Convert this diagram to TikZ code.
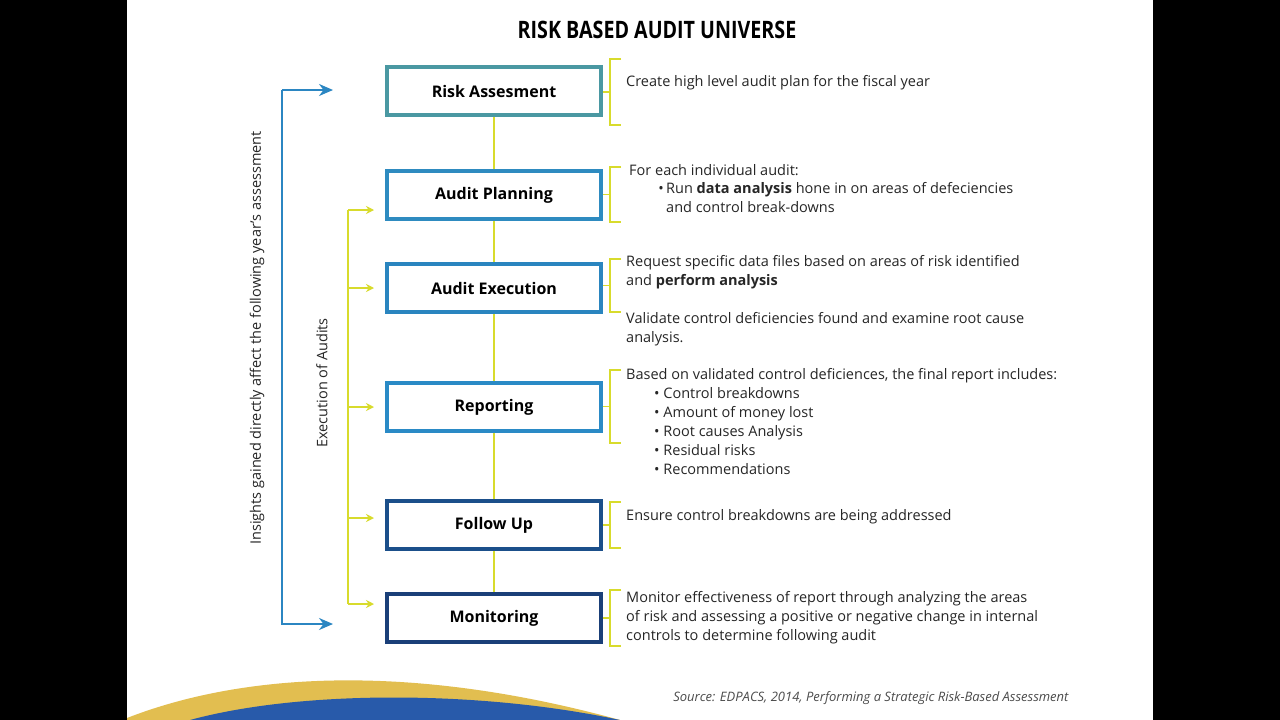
\documentclass[tikz,border=0pt]{standalone}
\usepackage{fontspec}
\setmainfont{Open Sans}
\usetikzlibrary{arrows.meta}
\definecolor{ylw}{HTML}{D8DB2C}
\definecolor{blu}{HTML}{2B86C2}
\definecolor{cra}{HTML}{4A98A2}
\definecolor{cap}{HTML}{2E8BC0}
\definecolor{cae}{HTML}{2A85BF}
\definecolor{crp}{HTML}{2A8AC6}
\definecolor{cfu}{HTML}{1B4F8A}
\definecolor{cmo}{HTML}{1A3F78}
\definecolor{gold}{HTML}{E2BE50}
\definecolor{dblue}{HTML}{285AAA}
\begin{document}
\begin{tikzpicture}[x=1pt,y=-1pt,
 box/.style={draw=#1,line width=3.5pt,minimum width=214pt,minimum height=48pt,inner sep=0pt,font=\fontsize{16}{18}\selectfont\bfseries,fill=white},
 txt/.style={anchor=north west,align=left,inner sep=0pt,font=\fontsize{14.5}{19}\selectfont,text=black!85},
 yl/.style={draw=ylw,line width=1.8pt},
 bl/.style={draw=blu,line width=2pt},
 brace/.style={draw=ylw,line width=1.5pt}]
\useasboundingbox (0,0) rectangle (1280,720);
\fill[black] (0,0) rectangle (127,720);
\fill[black] (1153,0) rectangle (1280,720);
\fill[white] (127,0) rectangle (1153,720);
% swoosh
\fill[gold] (127,718) .. controls (250,670) and (420,665) .. (620,720) -- (127,720) -- cycle;
\fill[dblue] (190,720) .. controls (300,690) and (480,690) .. (620,720) -- cycle;
\node[font=\fontsize{24}{26}\selectfont\bfseries,xscale=0.82] (title) at (657,30) {RISK BASED AUDIT UNIVERSE};
% boxes
\node[box=cra] (ra) at (494,91) {Risk Assesment};
\node[box=cap] (ap) at (494,195) {Audit Planning};
\node[box=cae] (ae) at (494,288) {Audit Execution};
\node[box=crp] (rp) at (494,407) {Reporting};
\node[box=cfu] (fu) at (494,525) {Follow Up};
\node[box=cmo] (mo) at (494,618) {Monitoring};
\draw[yl] (ra.south) -- (ap.north) (ap.south) -- (ae.north) (ae.south) -- (rp.north) (rp.south) -- (fu.north) (fu.south) -- (mo.north);
% braces
\foreach \a/\b in {59/125,167/222,259/312,370/443,502/548,590/646}{
 \draw[brace] (621,\a) -- (610,\a) -- (610,\b) -- (621,\b);
 \draw[brace] (610,{(\a+\b)/2}) -- (603,{(\a+\b)/2});
}
% yellow bracket
\coordinate (y1) at (348,210); \coordinate (y5) at (348,604);
\draw[yl] (y1) -- (y5);
\foreach \y in {210,288,407,518,604}{\draw[yl,-{Stealth[length=8pt,width=8pt]}] (348,\y) -- (374,\y);}
% blue bracket
\coordinate (b1) at (333,90); \coordinate (b2) at (333,624);
\draw[bl,-{Stealth[length=14pt,width=12pt]}] (282,90) -- (282,624) -- (b2);
\draw[bl,-{Stealth[length=14pt,width=12pt]}] (282,90) -- (b1);
\node[rotate=90,font=\fontsize{14.5}{16}\selectfont,text=black!85] (ins) at (257,338) {Insights gained directly affect the following year’s assessment};
\node[rotate=90,font=\fontsize{14.5}{16}\selectfont,text=black!85] (exa) at (322,383) {Execution of Audits};
% texts
\node[txt] (t1) at (626,75) {Create high level audit plan for the fiscal year};
\node[txt] (t2) at (629,164) {For each individual audit:\\[-1pt]
\hspace*{37pt}\llap{\textbullet\,}Run \textbf{data analysis} hone in on areas of defeciencies\\
\hspace*{37pt}and control break-downs};
\node[txt] (t3) at (626,255) {Request specific data files based on areas of risk identified\\ and \textbf{perform analysis}\\[19pt] Validate control deficiencies found and examine root cause\\ analysis.};
\node[txt] (t4) at (626,368) {Based on validated control deficiences, the final report includes:\\
\hspace*{28pt}\textbullet\ Control breakdowns\\
\hspace*{28pt}\textbullet\ Amount of money lost\\
\hspace*{28pt}\textbullet\ Root causes Analysis\\
\hspace*{28pt}\textbullet\ Residual risks\\
\hspace*{28pt}\textbullet\ Recommendations};
\node[txt] (t5) at (626,509) {Ensure control breakdowns are being addressed};
\node[txt] (t6) at (626,591) {Monitor effectiveness of report through analyzing the areas\\ of risk and assessing a positive or negative change in internal\\ controls to determine following audit};
\node[anchor=east,font=\fontsize{13}{15}\selectfont\itshape,text=black!70] (src) at (1072,698) {Source: EDPACS, 2014, Performing a Strategic Risk-Based Assessment};
\end{tikzpicture}
\end{document}
